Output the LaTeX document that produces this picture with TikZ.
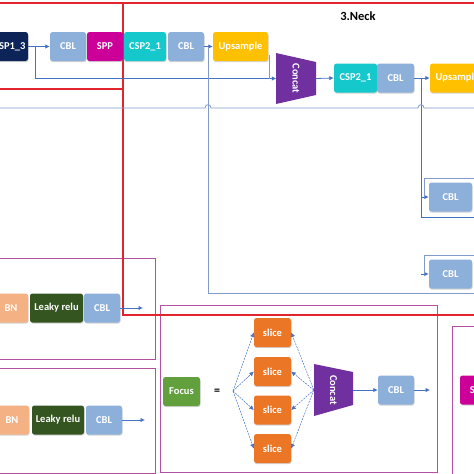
\documentclass[tikz,border=0pt]{standalone}
\usepackage{fontspec}
\setmainfont{Carlito}
\usepackage{graphicx}
\usetikzlibrary{arrows.meta, shadows, calc}

\definecolor{cblblue}{RGB}{141,176,219}
\definecolor{sppmag}{RGB}{204,0,153}
\definecolor{cspcyan}{RGB}{20,200,204}
\definecolor{upsgold}{RGB}{255,192,0}
\definecolor{navyblk}{RGB}{12,36,88}
\definecolor{bnsalmon}{RGB}{244,177,131}
\definecolor{leakgreen}{RGB}{52,84,32}
\definecolor{focusgreen}{RGB}{98,160,62}
\definecolor{sliceorange}{RGB}{234,118,38}
\definecolor{concatpurple}{RGB}{112,48,160}
\definecolor{redline}{RGB}{226,36,44}
\definecolor{pinkline}{RGB}{180,80,160}
\definecolor{linkblue}{RGB}{128,154,204}
\definecolor{arrowblue}{RGB}{68,114,196}

\newcommand{\boxfont}{\fontsize{10.5}{11}\selectfont\bfseries}

\begin{document}
\begin{tikzpicture}[x=1pt, y=-1pt,
		blk/.style={rounded corners=2.5pt, minimum height=29pt, inner sep=1pt, text=white, font=\boxfont,
			drop shadow={shadow xshift=0.5pt, shadow yshift=-1.2pt, opacity=0.35}},
		cbl/.style={blk, fill=cblblue, minimum width=36pt},
		spp/.style={blk, fill=sppmag, minimum width=36pt},
		csp/.style={blk, fill=cspcyan, minimum width=42pt},
		ups/.style={blk, fill=upsgold, minimum width=55pt},
		bn/.style={blk, fill=bnsalmon, minimum width=34pt},
		leaky/.style={blk, fill=leakgreen, minimum width=53pt},
		slice/.style={blk, fill=sliceorange, minimum width=37pt},
		focus/.style={blk, fill=focusgreen, minimum width=37pt},
		concatlbl/.style={inner sep=0pt, minimum width=39pt, minimum height=51pt, text=white, font=\boxfont},
		link/.style={color=linkblue, line width=0.8pt},
		flow/.style={color=arrowblue, line width=0.8pt, -{Latex[length=4.5pt, width=4.5pt]}},
		fan/.style={color=arrowblue, line width=0.5pt, dash pattern=on 2pt off 1pt, -{Latex[length=4.5pt, width=4.5pt]}},
		frame/.style={color=pinkline, line width=1pt},
		neck/.style={color=redline, line width=1.1pt}]
		\useasboundingbox (0,0) rectangle (474,474);
		% frames
		\draw[frame] (-5,258) rectangle (155,359);
		\draw[frame] (-5,368) rectangle (155,473);
		\draw[frame] (160,305) rectangle (437,472);
		\draw[frame] (452,326) rectangle (480,480);
		\draw[neck] (-5,3) -- (123,3);
		\draw[neck] (-5,89) -| (123,3);
		\draw[neck] (123,3) rectangle (480,315);
		\node[font=\fontsize{12.5}{14}\selectfont\bfseries] (necktitle) at (358,16) {3.Neck};

		% top row
		\node[blk, fill=navyblk, minimum width=37pt] (csp13) at (9.5,46.5) {CSP1\_3};
		\node[cbl] (cbl1) at (68,46.5) {CBL};
		\node[spp] (spp1) at (105,46.5) {SPP};
		\node[csp] (csp21a) at (145,46.5) {CSP2\_1};
		\node[cbl] (cbl2) at (186,46.5) {CBL};
		\node[ups] (ups1) at (240.5,46.5) {Upsample};

		% second row
		\fill[concatpurple] (276,53) -- (316,62) -- (316,95) -- (276,104) -- cycle;
		\node[concatlbl] (concat1) at (296,78.5) {\rotatebox{-90}{Concat}};
		\node[csp, minimum width=43pt] (csp21b) at (355.5,78) {CSP2\_1};
		\node[cbl, minimum width=37pt] (cbl3) at (395.5,78) {CBL};
		\node[ups] (ups2) at (457.5,78) {Upsample};
		\node[cbl, minimum width=43pt] (cbl4) at (450.5,197) {CBL};
		\node[cbl, minimum width=43pt] (cbl5) at (450.5,274) {CBL};

		% connectors of the neck
		\coordinate (j0) at ($(csp13.east)+(7,0)$);
		\coordinate (j1) at ($(cbl2.east)!0.45!(ups1.west)$);
		\coordinate (j2) at ($(cbl3.east)!0.45!(ups2.west)$);
		\coordinate (u1) at ($(ups1.east)+(1,8)$);
		\coordinate (bbin) at (-5,108);
		\coordinate (bbout) at (480,108);
		\coordinate (loopa) at (480,293);
		\coordinate (loopb) at (480,217);
		\coordinate (r1) at (480,178);
		\coordinate (r2) at (480,255);
		\draw[flow] (csp13.east) -- (cbl1.west);
		\draw[flow] (cbl2.east) -- (ups1.west);
		\draw[flow] (j0) |- (concat1.west);
		\draw[link] (u1) -- (u1 |- concat1.west);
		\draw[link] (j1) -- (j1 |- loopa) -- (loopa);
		\draw[flow] (concat1.east) -- (csp21b.west);
		\draw[flow] (cbl3.east) -- (ups2.west);
		\draw[arrowblue, line width=0.8pt] (j2) -- (j2 |- loopb) -- (loopb);
		\draw[link] (bbin) -- (205,108) .. controls (205,103.5) and (211,103.5) .. (211,108)
			-- (418,108) .. controls (418,103.5) and (424,103.5) .. (424,108) -- (bbout);
		\draw[flow] (j2 |- cbl4.west) -- (cbl4.west);
		\draw[link] (r1) -| ($(cbl4.west)+(-4,0)$);
		\draw[flow] ($(cbl5.west)+(-8,0)$) -- (cbl5.west);
		\draw[link] (r2) -| ($(cbl5.west)+(-4,0)$);

		% CBL blocks
		\node[bn] (bn1) at (11,308) {BN};
		\node[leaky] (lr1) at (56.5,308) {Leaky relu};
		\node[cbl] (cbl7) at (102,308) {CBL};
		\coordinate (out1) at (143,308);
		\draw[flow] (cbl7.east) -- (out1);
		\node[bn] (bn2) at (12,420) {BN};
		\node[leaky, minimum width=52pt] (lr2) at (58,420) {Leaky relu};
		\node[cbl] (cbl8) at (104,420) {CBL};
		\coordinate (out2) at (145,420);
		\draw[flow] (cbl8.east) -- (out2);

		% Focus
		\node[focus] (focus) at (181.5,391.5) {Focus};
		\node[font=\fontsize{12}{12}\selectfont\bfseries] (eq) at (217,392) {=};
		\coordinate (fan) at (233,391);
		\fill[concatpurple] (314,364) -- (353,372) -- (353,405) -- (314,416) -- cycle;
		\node[concatlbl, minimum height=52pt] (concat2) at (333.5,390) {\rotatebox{-90}{Concat}};
		\foreach \i/\y in {1/332.5, 2/371.5, 3/410, 4/448.5} {
			\node[slice] (slice\i) at (272.5,\y) {slice};
			\draw[fan] (fan) -- (slice\i.west);
			\draw[fan] (concat2.west) -- (slice\i.east);
		}
		\node[cbl] (cbl6) at (396,390) {CBL};
		\coordinate (out3) at (430,390);
		\draw[flow] (concat2.east) -- (cbl6.west);
		\draw[flow] (cbl6.east) -- (out3);
		\node[spp] (spp2) at (478,390) {SPP};
	\end{tikzpicture}
\end{document}
